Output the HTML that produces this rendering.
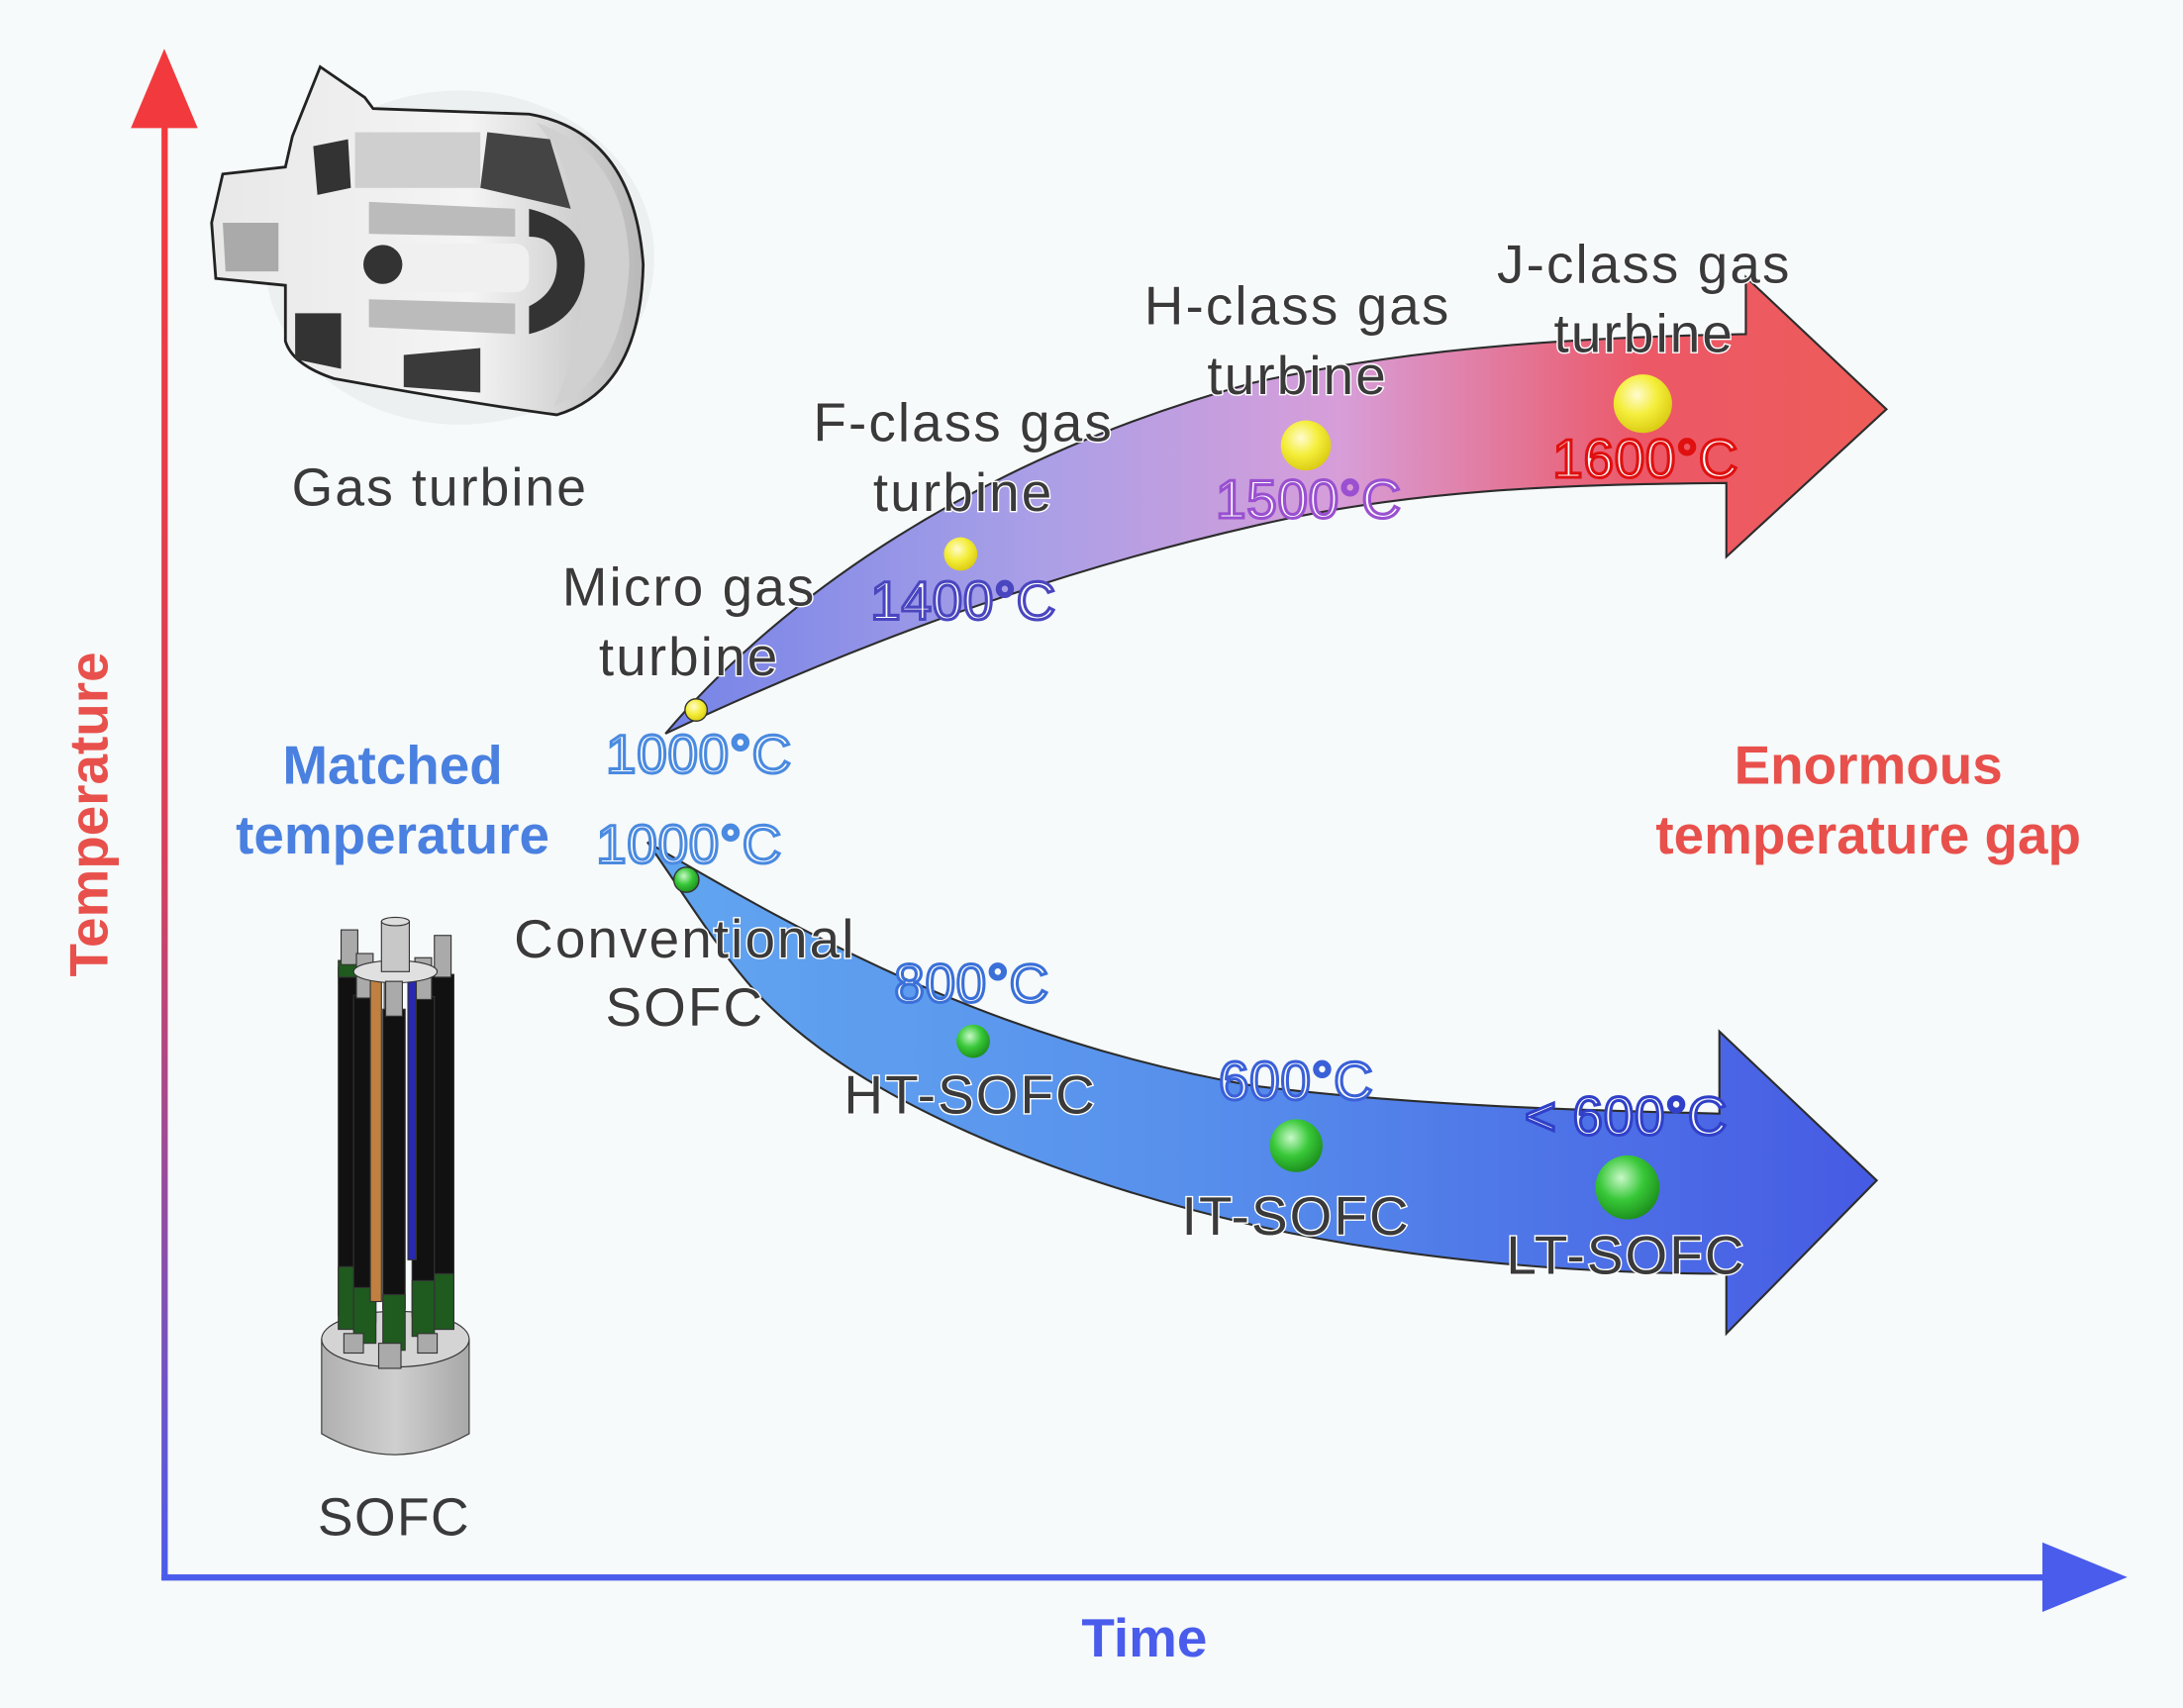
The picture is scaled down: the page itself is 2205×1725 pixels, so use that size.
<!DOCTYPE html>
<html><head><meta charset="utf-8"><style>
html,body{margin:0;padding:0;background:#f6fafa;}
svg{display:block;}
text{font-family:"Liberation Sans",sans-serif;}
</style></head><body>
<svg width="2205" height="1725" viewBox="0 0 1568 1227" preserveAspectRatio="none" xmlns="http://www.w3.org/2000/svg">
<defs>
<linearGradient id="yax" x1="0" y1="0" x2="0" y2="1"><stop offset="0" stop-color="#f23a3e"/><stop offset="0.5" stop-color="#d8405a"/><stop offset="1" stop-color="#4a5cec"/></linearGradient>
<linearGradient id="up" x1="480" y1="0" x2="1355" y2="0" gradientUnits="userSpaceOnUse"><stop offset="0" stop-color="#6f7ee6"/><stop offset="0.3" stop-color="#a69be6"/><stop offset="0.55" stop-color="#d69ad8"/><stop offset="0.8" stop-color="#ec5060"/><stop offset="1" stop-color="#ee5450"/></linearGradient>
<linearGradient id="dn" x1="465" y1="0" x2="1348" y2="0" gradientUnits="userSpaceOnUse"><stop offset="0" stop-color="#5aa2f0"/><stop offset="0.45" stop-color="#4f8aec"/><stop offset="1" stop-color="#3d52e2"/></linearGradient>
<radialGradient id="yb" cx="0.4" cy="0.35" r="0.7"><stop offset="0" stop-color="#fffbd0"/><stop offset="0.5" stop-color="#f4ee3a"/><stop offset="1" stop-color="#d8c810"/></radialGradient>
<radialGradient id="gb" cx="0.4" cy="0.35" r="0.7"><stop offset="0" stop-color="#c8f8c8"/><stop offset="0.5" stop-color="#38c838"/><stop offset="1" stop-color="#1a8a1a"/></radialGradient>
<linearGradient id="metal" x1="0" y1="0" x2="1" y2="0"><stop offset="0" stop-color="#e8e8e8"/><stop offset="0.6" stop-color="#f4f4f4"/><stop offset="1" stop-color="#b8b8b8"/></linearGradient>
<linearGradient id="cyl" x1="0" y1="0" x2="1" y2="0"><stop offset="0" stop-color="#b0b0b0"/><stop offset="0.5" stop-color="#cfcfcf"/><stop offset="1" stop-color="#a8a8a8"/></linearGradient>
</defs>
<rect width="1568" height="1227" fill="#f6fafa"/>

<rect x="116" y="85" width="4.5" height="1050" fill="url(#yax)"/>
<polygon points="118,35 94,92 142,92" fill="#f23a3e"/>
<rect x="116" y="1131" width="1360" height="4.5" fill="#4a5cec"/>
<polygon points="1528,1133 1467,1108 1467,1158" fill="#4a5cec"/>
<text x="0" y="0" transform="translate(77,585) rotate(-90)" text-anchor="middle" font-size="39" font-weight="bold" fill="#e8504c">Temperature</text>
<text x="822" y="1190" text-anchor="middle" font-size="39" font-weight="bold" fill="#4a5cec">Time</text>

<g>
<ellipse cx="330" cy="185" rx="140" ry="120" fill="#e6eaea" opacity="0.6"/>
<path d="M230,48 L262,70 L268,78 L380,82 Q455,95 462,190 Q460,280 400,298 Q340,290 240,272 Q210,262 205,245 L205,205 L155,200 L152,160 L160,125 L205,120 L210,98 Z" fill="url(#metal)" stroke="#222" stroke-width="2"/>
<path d="M385,88 Q450,110 452,190 Q448,270 398,292 Q420,240 418,190 Q415,120 385,88Z" fill="#d0d0d0"/>
<rect x="255" y="95" width="90" height="40" fill="#cfcfcf"/>
<path d="M225,105 L250,100 L252,135 L228,140Z" fill="#333"/>
<path d="M350,95 L395,100 L410,150 L345,135Z" fill="#444"/>
<path d="M380,150 Q420,160 420,190 Q420,230 380,240 L380,220 Q400,210 400,190 Q400,170 380,170Z" fill="#333"/>
<rect x="280" y="175" width="100" height="35" rx="10" fill="#f0f0f0"/>
<path d="M265,145 L370,150 L370,170 L265,168Z" fill="#bbb"/>
<path d="M265,215 L370,218 L370,240 L265,235Z" fill="#bbb"/>
<path d="M212,225 L245,225 L245,265 L212,258Z" fill="#333"/>
<path d="M290,255 L345,250 L345,282 L290,278Z" fill="#3a3a3a"/>
<path d="M160,160 L200,160 L200,195 L162,195Z" fill="#aaa"/>
<circle cx="275" cy="190" r="14" fill="#333"/>
</g>
<text x="316" y="363" text-anchor="middle" font-size="38" letter-spacing="1.5" fill="#3a3a3a">Gas turbine</text>

<g stroke="#333" stroke-width="0.8">
<path d="M231,962 L231,1030 Q283,1060 337,1030 L337,962Z" fill="url(#cyl)"/>
<ellipse cx="284" cy="962" rx="53" ry="20" fill="#d4d4d4"/>
<rect x="243" y="695" width="16" height="250" fill="#111"/>
<rect x="243" y="910" width="16" height="45" fill="#1f5a1f"/>
<rect x="243" y="690" width="16" height="12" fill="#1f5a1f"/>
<rect x="245" y="668" width="12" height="25" fill="#aaa"/>
<rect x="310" y="700" width="16" height="245" fill="#111"/>
<rect x="310" y="915" width="16" height="40" fill="#1f5a1f"/>
<rect x="312" y="672" width="12" height="30" fill="#aaa"/>
<rect x="254" y="715" width="16" height="235" fill="#111"/>
<rect x="254" y="925" width="16" height="40" fill="#1f5a1f"/>
<rect x="256" y="685" width="12" height="32" fill="#aaa"/>
<rect x="296" y="716" width="16" height="230" fill="#111"/>
<rect x="296" y="920" width="16" height="40" fill="#1f5a1f"/>
<rect x="298" y="688" width="12" height="30" fill="#aaa"/>
<rect x="276" y="670" width="12" height="300" fill="#c8c8c8"/>
<rect x="266" y="700" width="8" height="235" fill="#c08040"/>
<rect x="293" y="695" width="6" height="210" fill="#2828b0"/>
<ellipse cx="284" cy="698" rx="30" ry="8" fill="#e0e0e0"/>
<rect x="274" y="662" width="20" height="36" fill="#c8c8c8"/>
<ellipse cx="284" cy="662" rx="10" ry="3" fill="#ddd"/>
<rect x="275" y="725" width="16" height="215" fill="#111"/>
<rect x="275" y="930" width="16" height="40" fill="#1f5a1f"/>
<rect x="277" y="705" width="12" height="25" fill="#aaa"/>
<rect x="247" y="958" width="14" height="14" fill="#aaa"/>
<rect x="272" y="965" width="16" height="18" fill="#aaa"/>
<rect x="300" y="958" width="14" height="14" fill="#aaa"/>
</g>
<text x="283" y="1103" text-anchor="middle" font-size="38" letter-spacing="1" fill="#3a3a3a">SOFC</text>

<text x="282" y="563" text-anchor="middle" font-size="39" font-weight="bold" fill="#4a80e0">Matched</text>
<text x="282" y="613" text-anchor="middle" font-size="39" font-weight="bold" fill="#4a80e0">temperature</text>
<text x="1342" y="563" text-anchor="middle" font-size="39" font-weight="bold" fill="#e8504c">Enormous</text>
<text x="1342" y="613" text-anchor="middle" font-size="39" font-weight="bold" fill="#e8504c">temperature gap</text>

<path d="M478,527 C560,430 700,330 900,275 C1020,248 1150,242 1254,240 L1254,199 L1355,294 L1240,400 L1240,347 C1120,348 1010,352 900,378 C760,410 620,460 478,527Z" fill="url(#up)" stroke="#222" stroke-width="1.5" opacity="0.95"/>
<path d="M465,605 C560,660 700,745 900,780 C1020,795 1150,798 1235,800 L1235,741 L1348,848 L1240,958 L1240,915 C1130,915 1010,905 900,880 C750,845 620,790 550,720 C520,690 490,640 465,605Z" fill="url(#dn)" stroke="#222" stroke-width="1.5" opacity="0.95"/>

<circle cx="500" cy="510" r="8" fill="url(#yb)" stroke="#333" stroke-width="1"/>
<circle cx="690" cy="398" r="12" fill="url(#yb)"/>
<circle cx="938" cy="320" r="18" fill="url(#yb)"/>
<circle cx="1180" cy="290" r="21" fill="url(#yb)"/>
<circle cx="493" cy="632" r="9" fill="url(#gb)" stroke="#333" stroke-width="1"/>
<circle cx="699" cy="748" r="12" fill="url(#gb)"/>
<circle cx="931" cy="823" r="19" fill="url(#gb)"/>
<circle cx="1169" cy="853" r="23" fill="url(#gb)"/>

<g font-size="39" letter-spacing="1.5" text-anchor="middle" fill="#3a3a3a" stroke="#ffffff" stroke-width="2" paint-order="stroke">
<text x="495" y="435">Micro gas</text><text x="495" y="485">turbine</text>
<text x="692" y="317">F-class gas</text><text x="692" y="367">turbine</text>
<text x="932" y="233">H-class gas</text><text x="932" y="283">turbine</text>
<text x="1181" y="203">J-class gas</text><text x="1181" y="253">turbine</text>
<text x="492" y="688">Conventional</text><text x="492" y="737">SOFC</text>
<text x="697" y="800">HT-SOFC</text>
<text x="931" y="887">IT-SOFC</text>
<text x="1168" y="915">LT-SOFC</text>
</g>
<g font-size="39" letter-spacing="0.5" text-anchor="middle" fill="#ffffff" stroke-width="2.2">
<text x="502" y="555" stroke="#4a8ae0">1000°C</text>
<text x="495" y="620" stroke="#4a8ae0">1000°C</text>
<text x="692" y="445" stroke="#4a46c0">1400°C</text>
<text x="940" y="372" stroke="#9a50d0">1500°C</text>
<text x="1182" y="343" stroke="#e01010">1600°C</text>
<text x="698" y="720" stroke="#3a70d8">800°C</text>
<text x="931" y="790" stroke="#3a60d8">600°C</text>
<text x="1168" y="815" stroke="#3040c8">&lt; 600°C</text>
</g>
</svg>
</body></html>
